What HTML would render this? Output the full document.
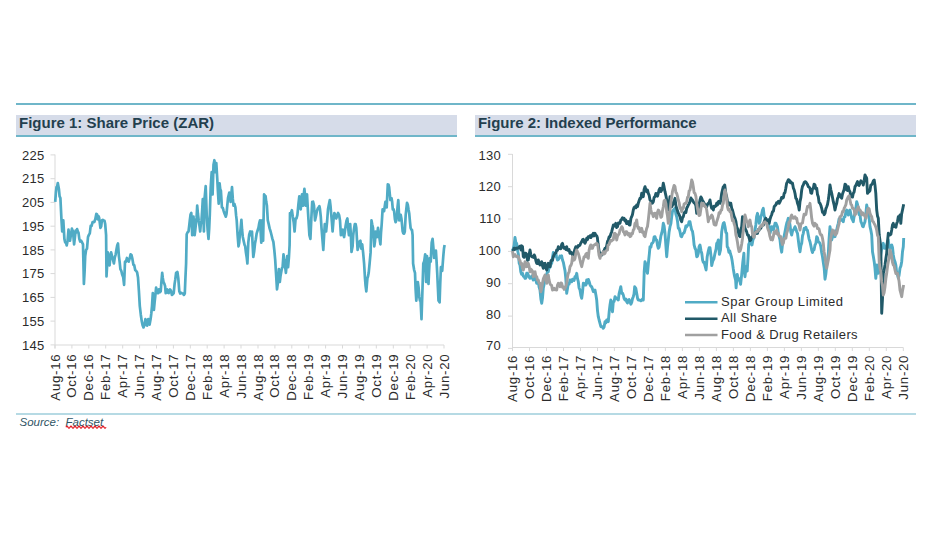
<!DOCTYPE html>
<html><head><meta charset="utf-8"><style>
html,body{margin:0;padding:0;background:#fff;width:940px;height:540px;overflow:hidden}
svg{display:block;font-family:"Liberation Sans", sans-serif}
</style></head><body>
<svg width="940" height="540" viewBox="0 0 940 540">
<rect x="16" y="103" width="900" height="2" fill="#6fb6c9"/>
<rect x="16" y="115" width="441" height="20" fill="#d6dce9"/>
<rect x="475" y="115" width="441" height="20" fill="#d6dce9"/>
<rect x="16" y="135" width="441" height="2" fill="#6fb6c9"/>
<rect x="475" y="135" width="441" height="2" fill="#6fb6c9"/>
<text x="19" y="128.2" font-size="15" font-weight="bold" fill="#233f4e">Figure 1: Share Price (ZAR)</text>
<text x="478" y="128.2" letter-spacing="-0.05" font-size="15" font-weight="bold" fill="#233f4e">Figure 2: Indexed Performance</text>
<rect x="16" y="413.5" width="900" height="1" fill="#6fb6c9"/>
<text x="19.5" y="426.3" font-size="11.5" font-style="italic" fill="#2f5565">Source:</text>
<text x="65.5" y="426.3" font-size="11.5" font-style="italic" fill="#2f5565">Factset</text>
<path d="M66,427.2 q1,-2 2,0 q1,2 2,0 q1,-2 2,0 q1,2 2,0 q1,-2 2,0 q1,2 2,0 q1,-2 2,0 q1,2 2,0 q1,-2 2,0 q1,2 2,0 q1,-2 2,0 q1,2 2,0 q1,-2 2,0 q1,2 2,0 q1,-2 2,0 q1,2 2,0 q1,-2 2,0 q1,2 2,0 q1,-2 2,0 q1,2 2,0" fill="none" stroke="#e41e26" stroke-width="1.3"/>
<line x1="55" y1="154.5" x2="55" y2="348.5" stroke="#d9d9d9" stroke-width="1"/>
<line x1="55" y1="345" x2="444" y2="345" stroke="#d9d9d9" stroke-width="1"/>
<line x1="50.5" y1="154.9" x2="55" y2="154.9" stroke="#d9d9d9" stroke-width="1"/>
<text x="44.5" y="159.5" font-size="13" text-anchor="end" fill="#2b2b2b" letter-spacing="0.3">225</text>
<line x1="50.5" y1="178.7" x2="55" y2="178.7" stroke="#d9d9d9" stroke-width="1"/>
<text x="44.5" y="183.3" font-size="13" text-anchor="end" fill="#2b2b2b" letter-spacing="0.3">215</text>
<line x1="50.5" y1="202.4" x2="55" y2="202.4" stroke="#d9d9d9" stroke-width="1"/>
<text x="44.5" y="207.0" font-size="13" text-anchor="end" fill="#2b2b2b" letter-spacing="0.3">205</text>
<line x1="50.5" y1="226.2" x2="55" y2="226.2" stroke="#d9d9d9" stroke-width="1"/>
<text x="44.5" y="230.8" font-size="13" text-anchor="end" fill="#2b2b2b" letter-spacing="0.3">195</text>
<line x1="50.5" y1="249.9" x2="55" y2="249.9" stroke="#d9d9d9" stroke-width="1"/>
<text x="44.5" y="254.5" font-size="13" text-anchor="end" fill="#2b2b2b" letter-spacing="0.3">185</text>
<line x1="50.5" y1="273.6" x2="55" y2="273.6" stroke="#d9d9d9" stroke-width="1"/>
<text x="44.5" y="278.2" font-size="13" text-anchor="end" fill="#2b2b2b" letter-spacing="0.3">175</text>
<line x1="50.5" y1="297.4" x2="55" y2="297.4" stroke="#d9d9d9" stroke-width="1"/>
<text x="44.5" y="302.0" font-size="13" text-anchor="end" fill="#2b2b2b" letter-spacing="0.3">165</text>
<line x1="50.5" y1="321.1" x2="55" y2="321.1" stroke="#d9d9d9" stroke-width="1"/>
<text x="44.5" y="325.7" font-size="13" text-anchor="end" fill="#2b2b2b" letter-spacing="0.3">155</text>
<line x1="50.5" y1="344.9" x2="55" y2="344.9" stroke="#d9d9d9" stroke-width="1"/>
<text x="44.5" y="349.5" font-size="13" text-anchor="end" fill="#2b2b2b" letter-spacing="0.3">145</text>
<line x1="55.0" y1="345" x2="55.0" y2="348.5" stroke="#d9d9d9" stroke-width="1"/>
<text transform="translate(59.5,353.6) rotate(-90)" font-size="13.3" letter-spacing="0.7" text-anchor="end" fill="#2b2b2b">Aug-16</text>
<line x1="71.9" y1="345" x2="71.9" y2="348.5" stroke="#d9d9d9" stroke-width="1"/>
<text transform="translate(76.4,353.6) rotate(-90)" font-size="13.3" letter-spacing="0.7" text-anchor="end" fill="#2b2b2b">Oct-16</text>
<line x1="88.8" y1="345" x2="88.8" y2="348.5" stroke="#d9d9d9" stroke-width="1"/>
<text transform="translate(93.3,353.6) rotate(-90)" font-size="13.3" letter-spacing="0.7" text-anchor="end" fill="#2b2b2b">Dec-16</text>
<line x1="105.7" y1="345" x2="105.7" y2="348.5" stroke="#d9d9d9" stroke-width="1"/>
<text transform="translate(110.2,353.6) rotate(-90)" font-size="13.3" letter-spacing="0.7" text-anchor="end" fill="#2b2b2b">Feb-17</text>
<line x1="122.7" y1="345" x2="122.7" y2="348.5" stroke="#d9d9d9" stroke-width="1"/>
<text transform="translate(127.2,353.6) rotate(-90)" font-size="13.3" letter-spacing="0.7" text-anchor="end" fill="#2b2b2b">Apr-17</text>
<line x1="139.6" y1="345" x2="139.6" y2="348.5" stroke="#d9d9d9" stroke-width="1"/>
<text transform="translate(144.1,353.6) rotate(-90)" font-size="13.3" letter-spacing="0.7" text-anchor="end" fill="#2b2b2b">Jun-17</text>
<line x1="156.5" y1="345" x2="156.5" y2="348.5" stroke="#d9d9d9" stroke-width="1"/>
<text transform="translate(161.0,353.6) rotate(-90)" font-size="13.3" letter-spacing="0.7" text-anchor="end" fill="#2b2b2b">Aug-17</text>
<line x1="173.4" y1="345" x2="173.4" y2="348.5" stroke="#d9d9d9" stroke-width="1"/>
<text transform="translate(177.9,353.6) rotate(-90)" font-size="13.3" letter-spacing="0.7" text-anchor="end" fill="#2b2b2b">Oct-17</text>
<line x1="190.3" y1="345" x2="190.3" y2="348.5" stroke="#d9d9d9" stroke-width="1"/>
<text transform="translate(194.8,353.6) rotate(-90)" font-size="13.3" letter-spacing="0.7" text-anchor="end" fill="#2b2b2b">Dec-17</text>
<line x1="207.2" y1="345" x2="207.2" y2="348.5" stroke="#d9d9d9" stroke-width="1"/>
<text transform="translate(211.7,353.6) rotate(-90)" font-size="13.3" letter-spacing="0.7" text-anchor="end" fill="#2b2b2b">Feb-18</text>
<line x1="224.1" y1="345" x2="224.1" y2="348.5" stroke="#d9d9d9" stroke-width="1"/>
<text transform="translate(228.6,353.6) rotate(-90)" font-size="13.3" letter-spacing="0.7" text-anchor="end" fill="#2b2b2b">Apr-18</text>
<line x1="241.0" y1="345" x2="241.0" y2="348.5" stroke="#d9d9d9" stroke-width="1"/>
<text transform="translate(245.5,353.6) rotate(-90)" font-size="13.3" letter-spacing="0.7" text-anchor="end" fill="#2b2b2b">Jun-18</text>
<line x1="258.0" y1="345" x2="258.0" y2="348.5" stroke="#d9d9d9" stroke-width="1"/>
<text transform="translate(262.5,353.6) rotate(-90)" font-size="13.3" letter-spacing="0.7" text-anchor="end" fill="#2b2b2b">Aug-18</text>
<line x1="274.9" y1="345" x2="274.9" y2="348.5" stroke="#d9d9d9" stroke-width="1"/>
<text transform="translate(279.4,353.6) rotate(-90)" font-size="13.3" letter-spacing="0.7" text-anchor="end" fill="#2b2b2b">Oct-18</text>
<line x1="291.8" y1="345" x2="291.8" y2="348.5" stroke="#d9d9d9" stroke-width="1"/>
<text transform="translate(296.3,353.6) rotate(-90)" font-size="13.3" letter-spacing="0.7" text-anchor="end" fill="#2b2b2b">Dec-18</text>
<line x1="308.7" y1="345" x2="308.7" y2="348.5" stroke="#d9d9d9" stroke-width="1"/>
<text transform="translate(313.2,353.6) rotate(-90)" font-size="13.3" letter-spacing="0.7" text-anchor="end" fill="#2b2b2b">Feb-19</text>
<line x1="325.6" y1="345" x2="325.6" y2="348.5" stroke="#d9d9d9" stroke-width="1"/>
<text transform="translate(330.1,353.6) rotate(-90)" font-size="13.3" letter-spacing="0.7" text-anchor="end" fill="#2b2b2b">Apr-19</text>
<line x1="342.5" y1="345" x2="342.5" y2="348.5" stroke="#d9d9d9" stroke-width="1"/>
<text transform="translate(347.0,353.6) rotate(-90)" font-size="13.3" letter-spacing="0.7" text-anchor="end" fill="#2b2b2b">Jun-19</text>
<line x1="359.4" y1="345" x2="359.4" y2="348.5" stroke="#d9d9d9" stroke-width="1"/>
<text transform="translate(363.9,353.6) rotate(-90)" font-size="13.3" letter-spacing="0.7" text-anchor="end" fill="#2b2b2b">Aug-19</text>
<line x1="376.3" y1="345" x2="376.3" y2="348.5" stroke="#d9d9d9" stroke-width="1"/>
<text transform="translate(380.8,353.6) rotate(-90)" font-size="13.3" letter-spacing="0.7" text-anchor="end" fill="#2b2b2b">Oct-19</text>
<line x1="393.3" y1="345" x2="393.3" y2="348.5" stroke="#d9d9d9" stroke-width="1"/>
<text transform="translate(397.8,353.6) rotate(-90)" font-size="13.3" letter-spacing="0.7" text-anchor="end" fill="#2b2b2b">Dec-19</text>
<line x1="410.2" y1="345" x2="410.2" y2="348.5" stroke="#d9d9d9" stroke-width="1"/>
<text transform="translate(414.7,353.6) rotate(-90)" font-size="13.3" letter-spacing="0.7" text-anchor="end" fill="#2b2b2b">Feb-20</text>
<line x1="427.1" y1="345" x2="427.1" y2="348.5" stroke="#d9d9d9" stroke-width="1"/>
<text transform="translate(431.6,353.6) rotate(-90)" font-size="13.3" letter-spacing="0.7" text-anchor="end" fill="#2b2b2b">Apr-20</text>
<line x1="444.0" y1="345" x2="444.0" y2="348.5" stroke="#d9d9d9" stroke-width="1"/>
<text transform="translate(448.5,353.6) rotate(-90)" font-size="13.3" letter-spacing="0.7" text-anchor="end" fill="#2b2b2b">Jun-20</text>
<line x1="512.5" y1="154" x2="512.5" y2="351.0" stroke="#d9d9d9" stroke-width="1"/>
<line x1="512.5" y1="347.5" x2="903.3" y2="347.5" stroke="#d9d9d9" stroke-width="1"/>
<line x1="508.0" y1="154.3" x2="512.5" y2="154.3" stroke="#d9d9d9" stroke-width="1"/>
<text x="501" y="159.5" font-size="13" text-anchor="end" fill="#2b2b2b" letter-spacing="0.3">130</text>
<line x1="508.0" y1="186.7" x2="512.5" y2="186.7" stroke="#d9d9d9" stroke-width="1"/>
<text x="501" y="190.9" font-size="13" text-anchor="end" fill="#2b2b2b" letter-spacing="0.3">120</text>
<line x1="508.0" y1="219.0" x2="512.5" y2="219.0" stroke="#d9d9d9" stroke-width="1"/>
<text x="501" y="222.7" font-size="13" text-anchor="end" fill="#2b2b2b" letter-spacing="0.3">110</text>
<line x1="508.0" y1="251.4" x2="512.5" y2="251.4" stroke="#d9d9d9" stroke-width="1"/>
<text x="501" y="255.0" font-size="13" text-anchor="end" fill="#2b2b2b" letter-spacing="0.3">100</text>
<line x1="508.0" y1="283.7" x2="512.5" y2="283.7" stroke="#d9d9d9" stroke-width="1"/>
<text x="501" y="286.9" font-size="13" text-anchor="end" fill="#2b2b2b" letter-spacing="0.3">90</text>
<line x1="508.0" y1="316.1" x2="512.5" y2="316.1" stroke="#d9d9d9" stroke-width="1"/>
<text x="501" y="318.6" font-size="13" text-anchor="end" fill="#2b2b2b" letter-spacing="0.3">80</text>
<line x1="508.0" y1="348.4" x2="512.5" y2="348.4" stroke="#d9d9d9" stroke-width="1"/>
<text x="501" y="350.2" font-size="13" text-anchor="end" fill="#2b2b2b" letter-spacing="0.3">70</text>
<line x1="512.5" y1="347.5" x2="512.5" y2="351.0" stroke="#d9d9d9" stroke-width="1"/>
<text transform="translate(517.0,354.8) rotate(-90)" font-size="13.3" letter-spacing="0.7" text-anchor="end" fill="#2b2b2b">Aug-16</text>
<line x1="529.5" y1="347.5" x2="529.5" y2="351.0" stroke="#d9d9d9" stroke-width="1"/>
<text transform="translate(534.0,354.8) rotate(-90)" font-size="13.3" letter-spacing="0.7" text-anchor="end" fill="#2b2b2b">Oct-16</text>
<line x1="546.5" y1="347.5" x2="546.5" y2="351.0" stroke="#d9d9d9" stroke-width="1"/>
<text transform="translate(551.0,354.8) rotate(-90)" font-size="13.3" letter-spacing="0.7" text-anchor="end" fill="#2b2b2b">Dec-16</text>
<line x1="563.5" y1="347.5" x2="563.5" y2="351.0" stroke="#d9d9d9" stroke-width="1"/>
<text transform="translate(568.0,354.8) rotate(-90)" font-size="13.3" letter-spacing="0.7" text-anchor="end" fill="#2b2b2b">Feb-17</text>
<line x1="580.5" y1="347.5" x2="580.5" y2="351.0" stroke="#d9d9d9" stroke-width="1"/>
<text transform="translate(585.0,354.8) rotate(-90)" font-size="13.3" letter-spacing="0.7" text-anchor="end" fill="#2b2b2b">Apr-17</text>
<line x1="597.5" y1="347.5" x2="597.5" y2="351.0" stroke="#d9d9d9" stroke-width="1"/>
<text transform="translate(602.0,354.8) rotate(-90)" font-size="13.3" letter-spacing="0.7" text-anchor="end" fill="#2b2b2b">Jun-17</text>
<line x1="614.4" y1="347.5" x2="614.4" y2="351.0" stroke="#d9d9d9" stroke-width="1"/>
<text transform="translate(618.9,354.8) rotate(-90)" font-size="13.3" letter-spacing="0.7" text-anchor="end" fill="#2b2b2b">Aug-17</text>
<line x1="631.4" y1="347.5" x2="631.4" y2="351.0" stroke="#d9d9d9" stroke-width="1"/>
<text transform="translate(635.9,354.8) rotate(-90)" font-size="13.3" letter-spacing="0.7" text-anchor="end" fill="#2b2b2b">Oct-17</text>
<line x1="648.4" y1="347.5" x2="648.4" y2="351.0" stroke="#d9d9d9" stroke-width="1"/>
<text transform="translate(652.9,354.8) rotate(-90)" font-size="13.3" letter-spacing="0.7" text-anchor="end" fill="#2b2b2b">Dec-17</text>
<line x1="665.4" y1="347.5" x2="665.4" y2="351.0" stroke="#d9d9d9" stroke-width="1"/>
<text transform="translate(669.9,354.8) rotate(-90)" font-size="13.3" letter-spacing="0.7" text-anchor="end" fill="#2b2b2b">Feb-18</text>
<line x1="682.4" y1="347.5" x2="682.4" y2="351.0" stroke="#d9d9d9" stroke-width="1"/>
<text transform="translate(686.9,354.8) rotate(-90)" font-size="13.3" letter-spacing="0.7" text-anchor="end" fill="#2b2b2b">Apr-18</text>
<line x1="699.4" y1="347.5" x2="699.4" y2="351.0" stroke="#d9d9d9" stroke-width="1"/>
<text transform="translate(703.9,354.8) rotate(-90)" font-size="13.3" letter-spacing="0.7" text-anchor="end" fill="#2b2b2b">Jun-18</text>
<line x1="716.4" y1="347.5" x2="716.4" y2="351.0" stroke="#d9d9d9" stroke-width="1"/>
<text transform="translate(720.9,354.8) rotate(-90)" font-size="13.3" letter-spacing="0.7" text-anchor="end" fill="#2b2b2b">Aug-18</text>
<line x1="733.4" y1="347.5" x2="733.4" y2="351.0" stroke="#d9d9d9" stroke-width="1"/>
<text transform="translate(737.9,354.8) rotate(-90)" font-size="13.3" letter-spacing="0.7" text-anchor="end" fill="#2b2b2b">Oct-18</text>
<line x1="750.4" y1="347.5" x2="750.4" y2="351.0" stroke="#d9d9d9" stroke-width="1"/>
<text transform="translate(754.9,354.8) rotate(-90)" font-size="13.3" letter-spacing="0.7" text-anchor="end" fill="#2b2b2b">Dec-18</text>
<line x1="767.4" y1="347.5" x2="767.4" y2="351.0" stroke="#d9d9d9" stroke-width="1"/>
<text transform="translate(771.9,354.8) rotate(-90)" font-size="13.3" letter-spacing="0.7" text-anchor="end" fill="#2b2b2b">Feb-19</text>
<line x1="784.4" y1="347.5" x2="784.4" y2="351.0" stroke="#d9d9d9" stroke-width="1"/>
<text transform="translate(788.9,354.8) rotate(-90)" font-size="13.3" letter-spacing="0.7" text-anchor="end" fill="#2b2b2b">Apr-19</text>
<line x1="801.4" y1="347.5" x2="801.4" y2="351.0" stroke="#d9d9d9" stroke-width="1"/>
<text transform="translate(805.9,354.8) rotate(-90)" font-size="13.3" letter-spacing="0.7" text-anchor="end" fill="#2b2b2b">Jun-19</text>
<line x1="818.3" y1="347.5" x2="818.3" y2="351.0" stroke="#d9d9d9" stroke-width="1"/>
<text transform="translate(822.8,354.8) rotate(-90)" font-size="13.3" letter-spacing="0.7" text-anchor="end" fill="#2b2b2b">Aug-19</text>
<line x1="835.3" y1="347.5" x2="835.3" y2="351.0" stroke="#d9d9d9" stroke-width="1"/>
<text transform="translate(839.8,354.8) rotate(-90)" font-size="13.3" letter-spacing="0.7" text-anchor="end" fill="#2b2b2b">Oct-19</text>
<line x1="852.3" y1="347.5" x2="852.3" y2="351.0" stroke="#d9d9d9" stroke-width="1"/>
<text transform="translate(856.8,354.8) rotate(-90)" font-size="13.3" letter-spacing="0.7" text-anchor="end" fill="#2b2b2b">Dec-19</text>
<line x1="869.3" y1="347.5" x2="869.3" y2="351.0" stroke="#d9d9d9" stroke-width="1"/>
<text transform="translate(873.8,354.8) rotate(-90)" font-size="13.3" letter-spacing="0.7" text-anchor="end" fill="#2b2b2b">Feb-20</text>
<line x1="886.3" y1="347.5" x2="886.3" y2="351.0" stroke="#d9d9d9" stroke-width="1"/>
<text transform="translate(890.8,354.8) rotate(-90)" font-size="13.3" letter-spacing="0.7" text-anchor="end" fill="#2b2b2b">Apr-20</text>
<line x1="903.3" y1="347.5" x2="903.3" y2="351.0" stroke="#d9d9d9" stroke-width="1"/>
<text transform="translate(907.8,354.8) rotate(-90)" font-size="13.3" letter-spacing="0.7" text-anchor="end" fill="#2b2b2b">Jun-20</text>
<polyline points="55.2,201.9 55.9,192.5 56.5,187.0 57.1,186.8 57.8,183.0 58.9,188.9 59.6,196.3 60.4,198.1 61.5,220.4 62.2,231.5 63.3,220.4 64.4,238.9 65.2,242.4 65.9,242.0 66.7,245.4 67.6,240.7 68.5,229.6 69.2,235.1 70.0,240.7 71.0,234.4 71.9,228.7 73.0,231.5 74.1,244.4 74.8,238.3 75.6,230.6 76.3,232.4 77.1,229.1 77.8,231.5 78.5,232.7 79.3,238.9 80.2,241.5 81.1,240.7 82.0,242.2 83.0,244.4 83.9,283.9 84.6,271.4 85.2,256.1 86.1,249.8 87.0,248.7 88.0,237.0 88.9,234.9 89.8,233.3 90.7,225.9 91.6,225.8 92.6,222.0 93.5,222.2 94.4,221.7 95.4,218.8 96.3,213.9 97.0,214.2 97.8,219.4 98.4,216.0 99.1,217.6 99.8,222.9 100.4,227.8 101.2,226.4 101.9,220.4 102.8,219.8 103.7,220.4 104.5,220.8 105.2,224.1 106.1,235.2 106.5,276.5 107.2,264.0 107.8,252.4 108.7,256.5 109.6,265.4 110.3,257.5 111.1,252.4 112.0,255.8 113.0,259.8 113.9,263.5 114.8,257.5 115.7,254.3 116.5,249.3 117.2,245.6 118.0,243.5 118.9,256.1 119.7,262.4 120.4,269.1 121.3,270.8 122.2,274.6 123.2,277.2 124.1,284.8 125.0,261.7 126.0,261.6 126.9,258.0 127.8,260.1 128.7,261.7 129.6,258.7 130.6,254.3 131.5,255.0 132.4,258.9 133.4,264.7 134.3,265.4 135.2,270.0 136.1,270.9 137.1,272.2 138.0,277.4 138.9,290.9 139.8,306.1 140.8,314.7 141.7,320.9 142.6,325.2 143.5,327.4 144.4,325.5 145.4,319.1 146.3,321.9 147.2,325.6 148.3,319.1 148.9,323.6 149.6,324.6 150.6,319.1 151.3,313.5 152.0,306.1 152.8,293.1 153.9,309.8 154.6,302.3 155.2,296.9 156.1,287.6 156.8,290.8 157.6,293.1 158.2,293.2 158.9,289.4 159.8,292.2 160.7,291.3 161.4,282.1 162.2,272.8 162.8,277.9 163.5,282.0 164.4,283.9 165.1,286.1 165.7,293.1 166.4,289.9 167.2,289.4 167.9,292.8 168.7,293.1 169.3,290.8 170.0,289.4 170.9,290.5 171.9,295.0 172.8,294.3 173.7,293.1 174.6,283.9 175.3,279.4 176.1,272.8 176.8,273.3 177.4,271.9 178.3,278.3 179.3,291.3 180.2,293.5 181.1,292.8 182.0,293.2 183.0,293.5 183.9,294.9 184.8,293.5 185.4,278.6 186.1,263.5 186.7,234.3 187.6,232.3 188.5,231.5 189.2,225.9 189.8,220.4 190.6,214.3 191.3,213.0 192.2,235.2 192.8,223.6 193.5,216.7 194.6,235.2 195.2,230.7 195.9,224.1 196.6,217.4 197.2,205.6 197.9,213.5 198.7,220.4 199.4,225.4 200.2,231.5 200.8,224.2 201.5,220.4 202.2,209.8 202.8,199.1 203.9,231.5 204.6,198.1 205.7,186.1 206.7,214.8 207.6,229.4 208.5,238.9 209.2,228.3 209.8,214.8 210.7,187.0 211.7,172.2 212.6,194.4 213.5,164.8 214.4,160.2 215.4,172.2 216.3,163.0 217.2,177.8 217.9,191.0 218.7,203.7 219.6,183.3 220.2,188.9 220.9,190.7 221.9,207.4 222.8,207.9 223.7,211.1 224.3,213.0 225.0,214.8 225.8,216.7 226.5,213.9 227.2,206.4 228.0,198.1 228.7,195.1 229.3,192.6 229.9,196.1 230.6,201.9 231.3,194.7 232.0,187.0 232.8,198.7 233.5,205.6 234.4,203.9 235.4,207.4 236.1,215.4 236.7,220.4 237.6,235.0 238.5,246.3 239.2,242.8 239.8,235.2 240.6,228.8 241.4,219.8 242.1,230.0 242.8,237.0 243.7,241.1 244.6,245.0 245.2,246.3 245.9,252.4 246.7,257.4 247.4,263.5 248.3,242.6 249.2,234.7 250.2,231.5 251.1,235.2 252.0,231.5 252.7,246.2 253.3,257.0 254.2,251.4 255.0,243.6 255.8,239.2 256.7,233.3 257.6,230.5 258.5,227.8 259.2,223.4 260.0,220.4 260.6,230.7 261.3,242.6 262.2,220.4 263.1,240.7 264.1,194.4 264.9,195.6 265.6,196.3 266.2,201.6 266.9,205.6 267.8,220.4 268.7,224.1 269.6,228.4 270.6,231.5 271.5,235.0 272.4,238.9 273.4,242.0 274.3,250.0 275.2,259.8 276.1,274.6 277.0,289.4 278.0,282.0 278.9,269.1 279.8,282.0 280.5,276.0 281.1,272.8 281.9,268.3 282.6,267.2 283.5,254.3 284.1,259.3 284.8,263.5 285.9,272.8 286.5,266.3 287.2,256.1 288.1,267.2 288.9,257.7 289.6,245.0 290.0,213.0 290.9,213.1 291.9,210.2 292.8,216.7 293.7,222.2 294.6,231.5 295.6,218.5 296.5,218.3 297.4,214.8 298.4,204.3 299.3,196.3 300.0,204.6 300.7,209.3 301.4,202.8 302.0,194.4 303.0,205.6 303.7,195.1 304.4,188.9 305.0,194.7 305.7,205.6 306.4,197.5 307.0,194.4 307.8,208.7 308.5,220.4 309.4,235.2 310.4,238.9 311.3,219.1 312.2,201.9 313.1,201.7 314.0,205.6 315.0,220.4 315.9,216.4 316.9,211.1 317.8,208.4 318.7,207.4 319.4,206.1 320.0,209.3 320.8,216.8 321.5,227.8 322.4,239.0 323.3,250.0 324.1,235.3 324.8,224.1 325.5,226.6 326.1,231.5 327.1,221.5 328.0,209.3 328.9,204.4 329.8,200.0 330.5,205.6 331.1,213.0 331.9,222.1 332.6,231.5 333.5,219.8 334.4,213.0 335.4,215.2 336.3,218.5 337.2,215.3 338.1,213.0 339.1,215.1 340.0,220.4 340.9,235.2 341.9,230.4 342.8,229.6 343.5,235.4 344.1,237.0 344.9,231.5 345.6,225.9 346.5,220.7 347.4,218.5 348.1,227.4 348.9,235.2 349.5,231.3 350.2,224.1 350.9,235.6 351.5,252.0 352.6,246.3 353.2,235.4 353.9,229.6 354.8,224.1 355.6,224.1 356.3,227.8 357.0,240.0 357.6,250.0 358.5,246.3 359.4,241.7 360.4,240.7 361.3,248.7 362.2,244.4 363.1,252.4 364.1,263.5 365.0,278.3 365.6,285.9 366.3,291.3 367.4,278.3 368.0,276.5 368.7,272.8 369.6,263.5 370.6,252.4 371.5,220.4 372.2,224.3 373.0,227.8 373.6,235.6 374.3,246.3 375.0,241.4 375.6,231.5 376.3,235.8 377.0,237.0 378.0,227.8 378.6,232.5 379.3,237.0 380.4,244.4 381.0,232.8 381.7,224.1 382.6,209.3 383.4,211.0 384.1,211.1 384.8,206.0 385.4,201.9 386.0,205.0 386.7,207.4 387.8,184.3 388.5,184.7 389.1,187.0 389.8,194.2 390.4,200.0 391.5,198.1 392.1,201.4 392.8,209.3 393.5,209.2 394.1,211.1 394.9,219.1 395.6,222.2 396.3,220.5 397.0,214.8 397.6,206.4 398.3,200.0 399.3,220.4 400.0,219.5 400.7,214.8 401.4,218.5 402.0,224.1 402.6,231.0 403.3,233.3 404.1,233.7 404.8,231.5 405.7,214.8 406.4,208.4 407.0,202.8 407.8,204.8 408.5,209.3 409.2,213.2 410.0,222.2 410.6,227.9 411.3,229.6 412.0,230.0 412.6,235.2 413.1,263.5 414.1,269.8 415.0,272.8 415.6,289.1 416.3,300.6 417.1,291.7 417.8,282.0 418.6,287.7 419.3,296.9 420.0,300.7 420.6,300.6 421.5,319.1 422.4,291.3 423.3,263.5 424.2,261.4 425.2,254.3 426.1,282.0 427.0,256.1 427.8,271.1 428.5,283.9 429.1,271.0 429.8,258.0 430.7,261.7 431.7,242.6 432.6,238.9 433.4,247.8 434.1,258.0 435.0,253.5 435.9,250.6 436.5,260.2 437.2,272.8 437.9,287.6 438.5,300.6 439.6,302.4 440.2,284.5 440.9,267.2 441.5,267.5 442.2,270.9 443.3,256.1 444.0,248.5 444.6,245.0" fill="none" stroke="#50abc5" stroke-width="2.7" stroke-linejoin="round"/>
<polyline points="512.5,251.0 513.3,248.3 514.1,245.3 515.0,237.5 515.9,242.7 516.7,243.3 517.5,250.0 518.4,254.3 519.2,263.3 520.0,265.3 520.8,271.7 521.6,274.2 522.5,273.3 523.4,276.2 524.2,276.7 525.0,278.4 525.8,278.3 526.7,273.3 527.5,273.2 528.3,275.0 529.1,277.2 530.0,278.3 530.9,277.7 531.7,276.0 532.5,278.4 533.3,280.0 534.1,277.4 535.0,278.3 535.9,280.4 536.7,283.3 537.5,281.9 538.3,281.7 539.1,287.0 540.0,290.0 540.9,299.2 541.7,303.3 542.5,298.1 543.3,288.3 544.1,284.4 545.0,280.0 545.8,277.6 546.6,274.6 547.5,271.4 548.3,271.7 549.1,267.1 550.0,267.3 550.9,264.5 551.7,263.3 552.5,257.3 553.3,252.5 554.2,255.0 555.0,256.2 555.8,253.3 556.6,256.8 557.5,260.0 558.4,259.5 559.2,258.3 560.0,256.1 560.8,256.7 561.6,255.9 562.5,260.0 563.4,262.4 564.2,266.7 565.0,270.6 565.8,278.3 566.7,293.3 567.5,288.4 568.3,283.3 569.1,284.2 570.0,280.0 570.9,281.8 571.7,281.7 572.5,279.2 573.3,280.0 574.1,280.4 575.0,276.7 575.9,276.5 576.7,273.3 577.5,278.7 578.3,281.7 579.1,288.0 580.0,290.0 580.9,295.5 581.7,298.3 582.5,292.3 583.3,283.3 584.1,283.4 585.0,285.0 585.9,285.0 586.7,280.0 587.5,283.0 588.4,279.4 589.2,281.7 590.0,284.7 590.9,286.2 591.7,286.7 592.5,289.0 593.3,291.7 594.1,291.0 595.0,290.0 595.9,294.9 596.7,300.0 597.5,310.6 598.3,316.7 599.1,320.0 600.0,323.3 600.9,326.7 601.7,326.7 602.5,326.7 603.3,328.3 604.1,327.0 605.0,321.7 605.9,322.9 606.7,320.0 607.5,320.6 608.3,321.7 609.2,311.7 610.0,305.0 610.8,300.0 611.6,306.2 612.5,311.7 613.3,301.7 614.1,301.4 615.0,296.7 615.9,298.7 616.7,298.3 617.5,299.1 618.3,300.0 619.1,293.6 620.0,290.0 620.8,286.7 621.7,293.3 622.5,293.2 623.3,295.0 624.1,298.5 625.0,300.0 625.9,299.1 626.7,301.7 627.5,303.0 628.3,300.0 629.1,299.6 630.0,301.7 630.9,304.2 631.7,302.5 632.5,298.6 633.3,296.7 634.0,294.1 634.7,286.7 635.8,288.3 637.0,295.0 637.6,298.6 638.3,300.0 639.1,300.0 640.0,300.1 640.8,300.8 641.6,300.5 642.5,299.0 643.3,300.0 644.2,271.7 645.0,261.7 645.6,263.5 646.3,268.3 647.5,273.3 648.7,260.0 649.4,253.4 650.0,246.7 650.9,247.3 651.7,243.3 652.5,243.1 653.3,241.7 654.1,237.0 655.0,236.7 655.9,240.0 656.7,240.0 657.5,245.3 658.3,248.3 659.1,247.1 660.0,241.7 660.9,235.9 661.7,233.3 662.5,229.6 663.3,223.3 664.1,226.0 665.0,233.3 665.9,245.8 666.7,256.7 667.5,247.2 668.3,240.0 669.1,231.9 670.0,226.7 670.9,223.7 671.7,216.7 672.5,211.3 673.3,210.0 674.1,209.3 675.0,208.3 675.9,214.3 676.7,216.7 677.5,221.2 678.3,228.3 679.1,228.5 680.0,231.7 680.9,236.2 681.7,236.7 682.5,234.6 683.3,233.3 684.1,232.8 685.0,230.0 685.9,225.9 686.7,226.7 687.5,225.1 688.3,225.0 689.1,221.6 690.0,221.7 690.9,226.7 691.7,230.0 692.5,231.2 693.3,236.7 694.1,244.9 695.0,248.3 695.9,250.0 696.7,256.7 697.5,256.2 698.3,253.3 699.1,246.7 700.0,245.0 701.1,251.1 701.8,253.5 702.6,260.1 703.3,262.2 704.1,262.1 705.0,265.6 706.1,270.0 707.2,256.7 708.3,251.1 709.1,247.8 710.0,247.8 711.1,256.7 711.7,265.6 712.8,261.0 713.9,258.9 715.0,253.3 716.1,248.9 716.7,243.3 717.5,242.6 718.3,240.0 719.4,254.4 720.5,250.0 721.7,231.7 722.5,226.9 723.3,223.3 724.1,222.6 725.0,226.7 725.9,232.5 726.7,233.3 727.2,246.7 728.0,247.6 728.9,252.2 729.7,250.7 730.5,254.0 731.4,256.7 732.2,261.1 733.3,268.9 734.4,275.6 735.6,280.0 736.1,287.8 737.2,274.4 738.3,280.0 739.4,278.9 740.6,284.4 741.7,274.4 742.8,262.2 743.9,253.3 744.4,271.0 745.0,276.7 746.1,266.7 747.2,271.1 748.0,257.8 748.7,244.4 749.4,242.8 750.0,240.0 751.0,243.8 752.0,245.0 753.0,239.5 754.0,238.0 754.9,230.7 755.8,225.0 756.6,216.7 757.5,213.3 758.4,218.0 759.2,223.3 760.0,221.4 760.8,216.7 761.6,214.6 762.5,210.0 763.3,208.3 764.1,215.4 765.0,218.3 765.9,222.1 766.7,223.3 767.5,223.5 768.3,220.0 769.1,227.7 770.0,233.3 770.9,229.9 771.7,226.7 772.5,226.9 773.3,230.0 774.1,227.5 775.0,223.3 775.9,223.2 776.7,225.0 777.5,227.1 778.3,233.3 779.1,236.4 780.0,240.0 780.9,248.0 781.7,252.2 782.5,244.2 783.3,240.0 784.1,236.3 785.0,231.7 785.9,226.9 786.7,223.3 787.5,220.9 788.3,218.3 789.1,219.8 790.0,225.0 790.9,232.4 791.7,235.0 792.5,231.2 793.3,230.0 794.1,228.9 795.0,226.7 795.9,228.8 796.7,231.7 797.5,233.3 798.3,240.0 799.1,246.2 800.0,251.7 800.9,245.6 801.7,243.3 802.5,236.0 803.3,233.3 804.1,228.4 805.0,228.3 805.9,227.4 806.7,230.0 807.5,230.4 808.3,235.0 809.1,239.1 810.0,241.7 810.9,245.9 811.7,250.0 812.5,252.5 813.3,250.0 814.1,249.8 815.0,245.0 815.9,243.4 816.7,236.7 817.5,237.8 818.3,241.7 819.1,242.2 820.0,243.3 820.8,246.5 821.7,252.7 822.5,256.7 823.4,263.1 824.2,268.3 825.0,279.2 825.9,273.7 826.7,265.0 827.5,260.2 828.3,253.3 829.1,238.7 830.0,226.7 830.9,232.9 831.7,240.0 832.5,236.8 833.3,233.3 834.1,232.4 835.0,236.7 835.9,230.9 836.7,230.0 837.5,226.2 838.3,223.3 839.1,218.8 840.0,218.3 840.9,220.3 841.7,220.0 842.5,219.5 843.3,221.7 844.1,217.1 845.0,216.7 845.9,211.7 846.7,210.0 847.5,211.1 848.3,215.0 849.1,211.0 850.0,210.0 850.9,214.3 851.7,218.3 852.5,219.8 853.3,221.7 854.1,216.5 855.0,213.3 855.9,208.2 856.7,201.7 857.5,204.4 858.3,210.0 859.1,214.6 860.0,215.0 860.9,221.6 861.7,223.3 862.5,226.2 863.3,226.7 864.1,223.9 865.0,221.7 865.9,213.4 866.7,205.0 867.5,209.6 868.3,213.3 869.1,217.7 870.0,226.7 870.9,230.4 871.7,235.0 872.5,251.7 873.4,256.8 874.2,261.7 875.0,268.3 875.8,278.3 877.0,265.0 877.6,267.0 878.3,273.3 879.1,268.2 880.0,260.0 880.9,253.5 881.7,248.3 882.5,245.9 883.3,243.3 884.1,248.0 885.0,248.3 885.9,247.2 886.7,245.0 887.5,241.4 888.3,240.0 889.1,246.7 890.0,248.3 890.9,246.0 891.7,245.0 892.5,247.5 893.3,255.0 894.1,259.3 895.0,261.7 895.9,265.4 896.7,273.3 897.5,274.8 898.3,278.3 899.1,275.1 900.0,268.3 900.9,265.9 901.7,261.7 902.5,251.7 903.3,246.7 903.7,238.0" fill="none" stroke="#50abc5" stroke-width="2.9" stroke-linejoin="round"/>
<polyline points="512.5,251.0 513.3,250.0 514.1,248.2 515.0,249.4 515.9,248.0 516.7,248.3 517.5,248.3 518.4,247.9 519.2,246.7 520.1,246.1 521.0,250.0 521.8,245.8 522.5,246.7 523.3,256.7 524.1,257.3 525.0,253.2 525.8,253.3 526.6,254.2 527.5,260.3 528.3,260.0 529.1,254.8 530.0,250.0 530.9,255.1 531.7,256.7 532.5,256.6 533.4,257.4 534.2,254.9 535.0,256.7 535.9,260.7 536.7,263.3 537.5,263.6 538.3,260.0 539.1,262.6 540.0,265.0 540.9,264.6 541.7,261.7 542.5,265.9 543.3,268.3 544.1,263.5 545.0,263.3 545.9,268.0 546.7,270.0 547.5,267.1 548.3,263.3 549.1,264.0 550.0,266.7 550.9,260.9 551.7,260.0 552.5,260.3 553.3,256.7 554.1,254.9 555.0,253.3 555.9,252.8 556.7,250.0 557.5,250.3 558.3,246.7 559.1,248.6 560.0,248.3 560.8,248.8 561.7,244.4 562.5,243.3 563.4,247.4 564.2,248.3 565.0,247.5 565.9,249.5 566.7,246.7 567.5,250.3 568.3,250.0 569.1,249.6 570.0,253.3 570.8,252.0 571.7,253.0 572.5,255.0 573.4,255.8 574.2,251.7 575.0,248.9 575.8,246.7 576.6,247.8 577.5,247.5 578.3,245.6 579.2,245.9 580.0,245.0 580.9,242.8 581.7,241.7 582.5,239.7 583.3,239.2 584.1,241.7 585.0,243.3 585.9,241.2 586.7,238.3 587.5,239.6 588.3,236.7 589.1,237.2 590.0,235.8 590.9,237.6 591.7,235.0 592.5,236.0 593.3,233.3 594.1,235.9 595.0,233.3 595.9,235.4 596.7,235.8 597.4,237.8 598.0,243.3 599.2,251.7 600.0,254.4 600.8,253.3 601.6,255.2 602.5,254.3 603.3,251.7 604.1,250.4 605.0,248.3 605.9,248.2 606.7,245.8 607.5,241.4 608.3,240.0 609.2,236.7 610.0,236.8 610.9,233.7 611.7,231.7 612.5,228.3 613.4,225.0 614.2,225.0 615.0,226.0 615.8,223.3 616.6,227.5 617.5,226.7 618.4,222.9 619.2,223.3 620.0,223.2 620.8,220.0 621.6,219.3 622.5,217.7 623.3,219.2 624.1,218.4 625.0,221.1 625.8,220.0 626.6,223.6 627.5,223.3 628.3,221.5 629.2,225.0 630.0,225.0 630.9,218.5 631.7,216.7 632.5,214.5 633.3,210.0 634.1,207.5 635.0,206.7 635.9,207.8 636.7,205.0 637.5,206.6 638.3,203.3 639.1,200.8 640.0,198.3 640.9,198.4 641.7,193.3 642.5,194.0 643.3,196.7 644.1,189.5 645.0,186.7 645.9,189.7 646.7,191.7 647.5,190.1 648.3,193.3 649.1,195.1 650.0,200.0 650.9,201.2 651.7,203.3 652.5,203.1 653.3,201.7 654.1,197.4 655.0,196.7 655.9,193.5 656.7,195.0 657.5,196.1 658.3,193.3 659.1,189.8 660.0,188.3 660.9,191.5 661.7,190.0 662.5,188.7 663.3,183.3 664.1,186.9 665.0,191.7 665.9,195.6 666.7,200.0 667.5,205.1 668.3,210.0 669.1,204.1 670.0,196.7 670.9,202.2 671.7,206.7 672.5,205.3 673.3,203.3 674.1,201.4 675.0,198.3 675.9,205.6 676.7,208.3 677.5,210.8 678.3,213.3 679.1,214.6 680.0,216.7 680.9,220.3 681.7,221.7 682.5,217.8 683.3,216.7 684.1,213.2 685.0,211.7 685.9,212.5 686.7,208.3 687.5,206.8 688.3,205.0 689.1,203.6 690.0,201.7 690.9,197.9 691.7,199.2 692.5,200.0 693.3,201.7 694.1,202.9 695.0,203.3 695.9,205.8 696.7,213.3 697.5,211.4 698.3,208.3 699.1,204.8 700.0,200.0 700.9,196.9 701.7,198.3 702.5,200.7 703.3,201.7 704.1,203.2 705.0,205.0 705.9,206.8 706.7,206.7 707.5,204.2 708.3,203.3 709.1,202.7 710.0,200.0 710.9,205.4 711.7,208.3 712.5,206.7 713.3,210.0 714.1,206.1 715.0,206.7 715.9,205.9 716.7,203.3 717.5,204.9 718.3,201.7 719.1,201.2 720.0,203.3 720.8,200.0 721.7,193.3 722.5,189.8 723.3,186.7 724.0,186.3 724.7,185.0 725.8,193.3 726.6,196.6 727.5,201.7 728.4,202.6 729.2,205.0 730.0,203.2 730.8,203.3 731.7,208.3 732.5,210.1 733.3,213.3 734.1,216.3 735.0,218.3 735.9,221.5 736.7,226.7 737.5,228.6 738.3,231.7 739.1,235.6 740.0,236.7 740.9,229.2 741.7,226.7 742.5,216.7 743.4,220.4 744.2,223.3 745.0,227.9 745.8,230.0 746.6,231.5 747.5,235.0 748.4,235.2 749.2,238.3 750.0,240.7 750.8,240.0 751.6,237.0 752.5,236.7 753.4,234.2 754.2,235.0 755.0,233.0 755.8,231.7 756.6,233.5 757.5,233.3 758.4,229.6 759.2,230.0 760.0,228.2 760.8,228.3 761.6,225.8 762.5,225.0 763.4,225.1 764.2,221.7 765.0,219.7 765.8,218.3 766.6,221.0 767.5,220.0 768.4,219.9 769.2,223.3 770.0,219.2 770.8,216.7 771.6,215.0 772.5,211.7 773.4,211.2 774.2,206.7 775.0,205.6 775.8,205.0 776.6,202.7 777.5,203.3 778.4,201.3 779.2,203.3 780.0,201.8 780.8,200.0 781.6,197.5 782.5,198.3 783.4,197.4 784.2,193.3 785.0,192.6 785.8,188.3 786.6,183.4 787.5,181.7 788.4,179.7 789.2,180.0 790.0,182.4 790.8,181.7 791.6,183.2 792.5,183.3 793.4,188.2 794.2,190.0 795.0,193.3 795.8,198.3 796.6,198.9 797.5,203.3 798.4,205.6 799.2,210.0 800.0,201.7 800.9,197.4 801.7,190.0 802.5,186.3 803.3,185.0 804.1,182.6 805.0,181.7 805.9,182.1 806.7,183.3 807.5,184.6 808.3,186.7 809.1,187.0 810.0,188.3 810.9,193.0 811.7,193.3 812.5,189.0 813.3,188.3 814.1,184.1 815.0,185.0 815.9,189.0 816.7,188.3 817.5,194.5 818.3,196.7 819.1,202.5 820.0,203.3 820.9,205.5 821.7,208.3 822.5,212.3 823.3,211.7 824.1,214.7 825.0,213.3 825.9,208.6 826.7,206.7 827.5,204.6 828.3,200.0 829.1,194.3 830.0,185.0 830.9,190.0 831.7,193.3 832.5,197.6 833.3,201.7 834.1,204.8 835.0,210.0 835.9,205.8 836.7,203.3 837.5,198.6 838.3,196.7 839.1,193.6 840.0,195.0 840.9,197.1 841.7,198.3 842.5,193.9 843.3,191.7 844.1,189.6 845.0,184.2 845.9,184.7 846.7,190.0 847.5,190.4 848.3,186.7 849.1,190.2 850.0,191.7 850.9,196.4 851.7,196.7 852.5,197.1 853.3,193.3 854.1,192.1 855.0,186.7 855.9,185.4 856.7,183.3 857.5,181.6 858.3,185.0 859.1,185.4 860.0,183.3 860.9,180.8 861.7,181.7 862.5,182.3 863.3,185.0 864.1,180.8 865.0,175.0 865.9,176.8 866.7,178.3 867.5,193.3 868.4,192.1 869.2,191.7 870.0,190.6 870.8,185.0 871.6,184.7 872.5,183.3 873.4,180.8 874.2,180.0 875.0,185.4 875.8,193.3 876.7,210.0 877.5,216.0 878.3,218.3 879.2,235.0 880.0,240.7 880.8,246.7 881.7,313.3 882.5,298.3 883.3,273.3 884.1,270.6 885.0,265.0 885.9,258.4 886.7,253.3 887.5,241.7 888.3,233.3 889.1,234.3 890.0,235.0 890.9,234.1 891.7,230.0 892.5,224.9 893.3,223.3 894.1,226.5 895.0,226.7 895.9,227.2 896.7,223.3 897.5,221.6 898.3,216.7 899.1,217.5 900.0,215.0 900.8,223.3 901.6,214.1 902.5,210.0 903.7,204.2" fill="none" stroke="#215968" stroke-width="2.9" stroke-linejoin="round"/>
<polyline points="512.5,251.0 513.3,256.7 514.1,255.3 515.0,254.6 515.9,256.2 516.7,256.7 517.5,256.0 518.4,256.6 519.2,260.0 520.0,260.6 520.9,264.4 521.7,263.3 522.5,268.2 523.3,270.0 524.1,267.2 525.0,261.7 525.9,262.8 526.7,266.7 527.5,265.2 528.3,263.3 529.1,266.3 530.0,271.7 530.9,269.1 531.7,270.0 532.5,271.3 533.3,276.7 534.1,272.7 535.0,271.7 535.9,276.4 536.7,276.7 537.5,280.1 538.3,280.0 539.1,283.2 540.0,283.3 540.8,291.7 541.6,289.1 542.5,283.3 543.3,278.9 544.2,276.8 545.0,275.0 545.9,279.8 546.7,283.3 547.5,280.4 548.3,275.0 549.1,280.2 550.0,283.6 550.8,285.0 551.6,285.4 552.5,290.0 553.4,289.7 554.2,288.3 555.0,289.8 555.9,289.5 556.7,290.0 557.5,285.0 558.3,283.3 559.1,284.9 560.0,286.7 560.9,282.9 561.7,283.3 562.5,287.3 563.3,286.7 564.1,289.4 565.0,288.3 565.9,286.0 566.7,283.3 567.5,277.3 568.3,273.3 569.1,272.1 570.0,266.7 570.9,265.4 571.7,263.3 572.5,256.7 573.4,260.3 574.2,260.0 575.0,258.5 575.8,253.3 576.7,250.0 577.5,251.7 578.3,253.3 579.1,256.2 580.0,260.0 580.9,263.9 581.7,266.7 582.5,263.0 583.3,260.0 584.1,256.6 585.0,256.7 585.9,254.0 586.7,253.3 587.5,257.4 588.3,258.3 589.1,250.1 590.0,246.7 590.8,244.9 591.7,248.4 592.5,248.3 593.4,245.5 594.2,245.0 595.0,244.6 595.9,243.7 596.7,243.3 597.4,244.2 598.0,246.7 599.0,255.1 600.0,258.3 600.8,255.1 601.7,254.5 602.5,253.3 603.3,251.8 604.2,254.0 605.0,253.3 605.8,251.0 606.7,250.4 607.5,250.0 608.0,245.0 609.0,244.6 610.0,241.7 610.8,240.2 611.7,240.9 612.5,240.0 613.3,239.9 614.2,233.5 615.0,233.3 615.9,234.4 616.7,240.0 617.5,236.1 618.3,235.0 619.1,233.9 620.0,230.0 620.9,229.0 621.7,226.7 622.5,227.8 623.3,231.7 624.1,232.5 625.0,235.0 625.9,231.7 626.7,231.7 627.5,233.1 628.3,235.0 629.1,233.5 630.0,236.7 630.9,236.0 631.7,233.3 632.5,233.7 633.3,230.0 634.1,229.0 635.0,223.3 635.9,222.9 636.7,220.0 637.5,226.5 638.3,228.3 639.1,227.5 640.0,231.7 640.9,228.9 641.7,228.3 642.5,232.4 643.3,231.7 644.1,235.6 645.0,236.7 645.9,232.0 646.7,228.3 647.5,226.5 648.3,220.0 649.1,212.3 650.0,203.3 650.9,210.0 651.7,213.3 652.5,213.9 653.3,216.7 654.1,213.4 655.0,213.3 655.9,215.5 656.7,218.3 657.5,212.3 658.3,210.0 659.1,211.0 660.0,213.3 660.9,217.4 661.7,216.7 662.5,210.8 663.3,206.7 664.1,200.8 665.0,200.0 665.9,203.5 666.7,211.7 667.5,215.8 668.3,223.3 669.1,218.1 670.0,210.0 670.9,202.6 671.7,196.7 672.5,191.4 673.3,188.3 674.1,185.4 675.0,186.7 675.9,192.5 676.7,193.3 677.5,196.3 678.3,200.0 679.1,202.6 680.0,208.3 680.9,207.7 681.7,211.7 682.5,207.7 683.3,208.3 684.1,204.1 685.0,203.3 685.9,203.4 686.7,201.7 687.5,197.4 688.3,196.7 689.1,191.0 690.0,190.0 690.9,185.0 691.7,180.0 692.5,182.0 693.3,186.7 694.1,192.6 695.0,193.3 695.9,196.3 696.7,203.3 697.5,208.5 698.3,213.3 699.1,215.6 700.0,215.0 700.9,208.7 701.7,203.3 702.5,205.8 703.3,203.3 704.1,204.9 705.0,206.7 705.9,207.0 706.7,210.0 707.5,215.4 708.3,221.7 709.1,217.6 710.0,218.3 710.9,216.2 711.7,215.0 712.5,216.2 713.3,220.0 714.1,224.5 715.0,225.0 715.9,225.1 716.7,221.7 717.5,219.2 718.3,216.7 719.1,212.6 720.0,213.3 720.9,210.4 721.7,210.0 722.5,205.3 723.3,203.3 724.1,195.1 725.0,190.0 725.9,193.6 726.7,200.0 727.5,206.9 728.3,210.0 729.1,209.0 730.0,211.7 730.9,211.9 731.7,216.7 732.5,220.6 733.3,220.0 734.1,223.7 735.0,226.7 735.9,234.9 736.7,238.0 737.5,242.5 738.3,248.0 739.1,251.6 740.0,251.0 740.9,248.3 741.7,244.0 742.5,238.5 743.3,230.0 744.1,223.8 745.0,215.0 745.9,218.3 746.7,221.7 747.5,222.1 748.3,226.7 749.1,221.8 750.0,220.0 750.9,225.3 751.7,226.7 752.5,233.8 753.3,236.7 754.1,237.2 755.0,233.3 755.9,231.7 756.7,231.7 757.5,231.7 758.3,230.0 759.1,229.9 760.0,226.7 760.9,226.6 761.7,225.0 762.5,225.8 763.3,223.3 764.1,222.6 765.0,221.7 765.9,223.3 766.7,223.3 767.5,227.6 768.3,230.0 769.1,232.1 770.0,236.7 770.9,239.7 771.7,238.3 772.5,239.9 773.3,236.7 774.1,232.0 775.0,231.7 775.9,233.3 776.7,230.0 777.5,234.1 778.3,233.3 779.1,235.9 780.0,236.7 780.9,236.8 781.7,241.7 782.5,244.6 783.3,243.3 784.1,238.9 785.0,238.3 785.9,238.2 786.7,233.3 787.5,230.9 788.3,226.7 789.1,221.9 790.0,221.7 790.9,216.6 791.7,215.0 792.5,217.4 793.3,218.3 794.1,217.9 795.0,216.7 795.9,218.8 796.7,218.3 797.5,223.0 798.3,223.3 799.1,225.2 800.0,230.0 800.9,224.1 801.7,223.3 802.5,223.0 803.3,218.3 804.1,214.1 805.0,215.0 805.9,214.5 806.7,210.0 807.5,206.4 808.3,206.7 809.1,206.6 810.0,203.3 810.8,210.0 811.7,218.3 812.5,223.1 813.3,225.0 814.1,226.1 815.0,223.3 815.9,224.4 816.7,225.0 817.5,228.6 818.3,228.3 819.1,229.2 820.0,233.3 820.9,235.0 821.7,235.0 822.5,238.3 823.3,243.3 824.1,252.0 825.0,256.7 825.9,263.9 826.7,268.3 827.5,264.0 828.3,260.0 829.1,255.1 830.0,250.0 830.5,240.0 831.7,233.3 832.5,230.0 833.3,231.7 834.1,230.9 835.0,235.0 835.9,234.6 836.7,233.3 837.5,229.9 838.3,226.7 839.1,223.6 840.0,216.7 840.9,216.4 841.7,215.0 842.5,211.5 843.3,211.7 844.1,208.5 845.0,206.7 845.9,204.7 846.7,200.0 847.5,198.5 848.3,196.7 849.1,195.8 850.0,200.0 850.9,204.3 851.7,205.0 852.5,208.4 853.3,208.3 854.1,209.5 855.0,215.0 855.9,213.6 856.7,211.7 857.5,208.6 858.3,206.7 859.1,209.8 860.0,210.0 860.9,211.5 861.7,215.0 862.5,212.8 863.3,213.3 864.1,214.9 865.0,216.7 865.9,218.3 866.7,215.0 867.5,209.5 868.3,208.3 869.1,208.8 870.0,213.3 870.9,215.6 871.7,216.7 872.5,221.2 873.3,221.7 874.1,223.4 875.0,225.0 875.9,227.2 876.7,230.0 877.5,235.2 878.3,236.7 879.2,261.7 880.0,268.1 880.8,271.7 881.7,281.7 882.5,286.1 883.3,295.0 884.1,292.8 885.0,286.7 885.9,278.4 886.7,273.3 887.5,266.5 888.3,261.7 889.1,257.6 890.0,250.0 890.9,252.9 891.7,256.7 892.5,262.4 893.3,265.0 894.1,265.8 895.0,270.0 895.9,273.6 896.7,273.3 897.5,273.3 898.3,276.7 899.1,281.5 900.0,290.0 900.9,293.3 901.7,296.7 902.5,290.9 903.3,286.7 903.7,285.0" fill="none" stroke="#a0a0a0" stroke-width="2.9" stroke-linejoin="round"/>
<line x1="685" y1="302.3" x2="717.5" y2="302.3" stroke="#50abc5" stroke-width="2.5"/>
<text x="721" y="305.9" font-size="13" fill="#2b2b2b" letter-spacing="0.55">Spar Group Limited</text>
<line x1="685" y1="318.7" x2="717.5" y2="318.7" stroke="#215968" stroke-width="2.5"/>
<text x="721" y="322.3" font-size="13" fill="#2b2b2b" letter-spacing="0.4">All Share</text>
<line x1="685" y1="335.1" x2="717.5" y2="335.1" stroke="#a0a0a0" stroke-width="2.5"/>
<text x="721" y="338.7" font-size="13" fill="#2b2b2b" letter-spacing="0.4">Food &amp; Drug Retailers</text>
</svg>
</body></html>
